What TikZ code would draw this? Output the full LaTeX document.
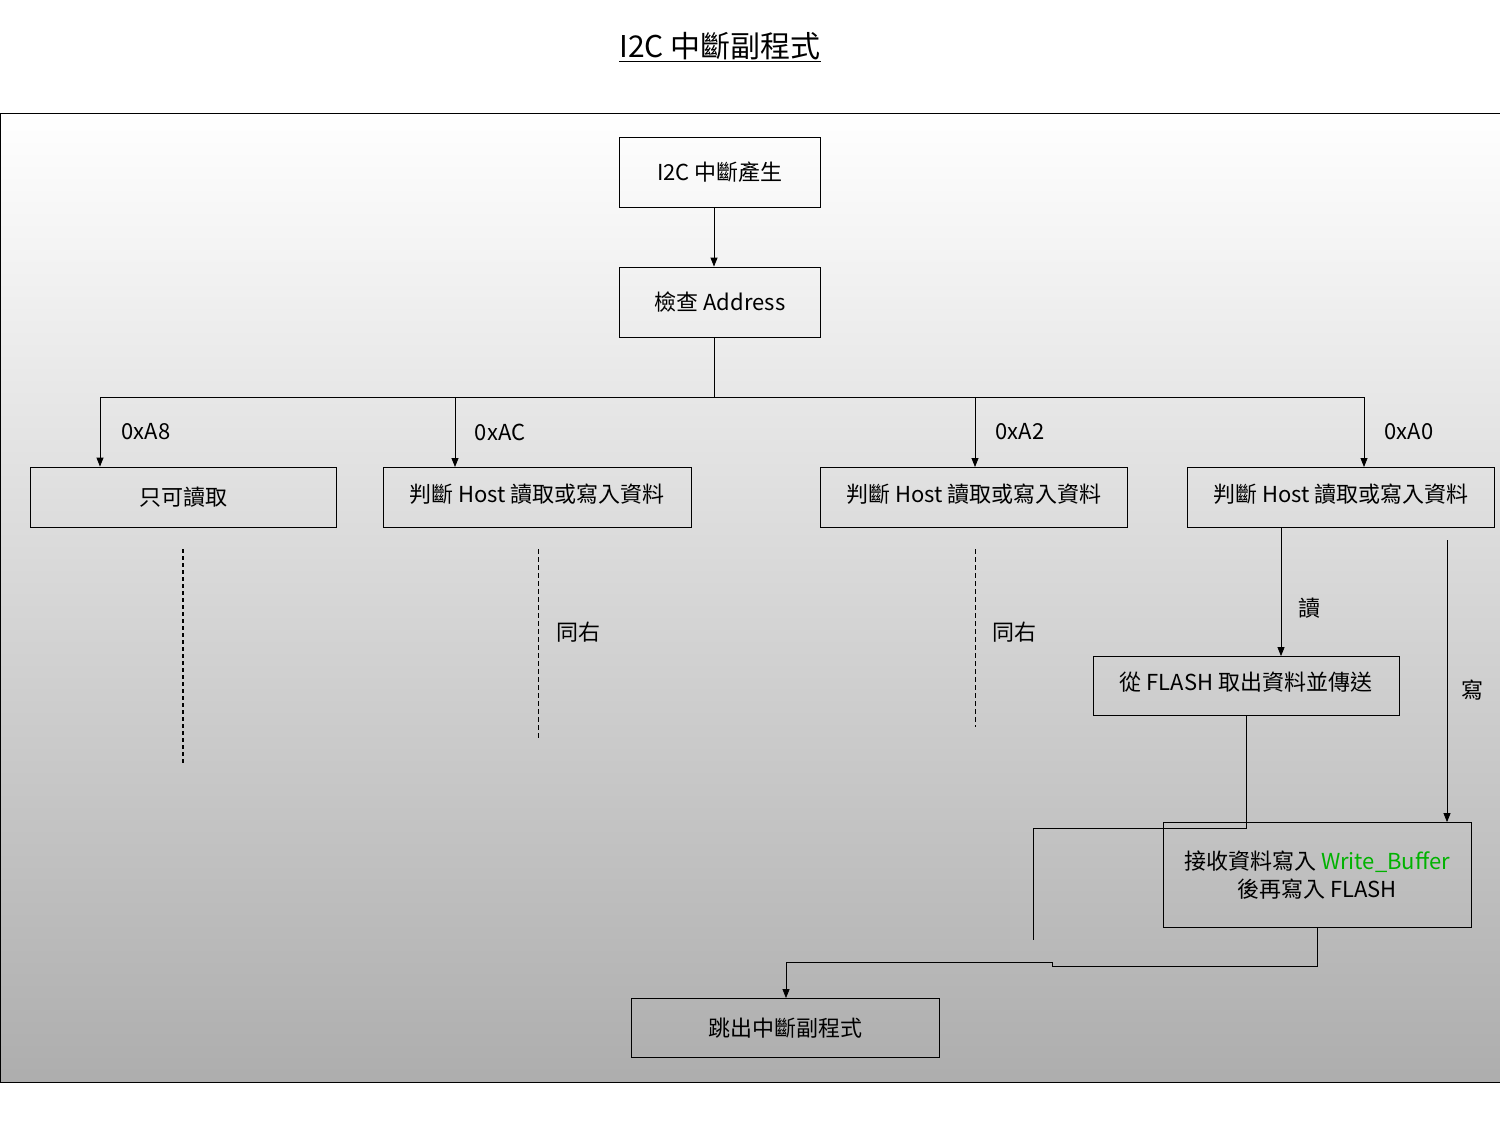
\documentclass[tikz,border=0pt]{standalone}
\usepackage{fontspec}
\setmainfont{Noto Sans CJK TC}
\usetikzlibrary{calc, positioning, arrows.meta}

\begin{document}
\begin{tikzpicture}[x=1pt,y=-1pt,
  box/.style={draw,thick,rectangle,inner sep=0pt,font=\fontsize{22}{28}\selectfont},
  arr/.style={-{Triangle[length=9pt,width=7pt]},thick},
  lab/.style={font=\fontsize{22}{26}\selectfont},
  dashln/.style={thick,dash pattern=on 5pt off 3pt}]
% canvas and background
\useasboundingbox (0,0) rectangle (1500,1125);
\shade[top color=white,bottom color=black!32] (0,113) rectangle (1500,1082);
\draw (0,113) rectangle (1500,1082);
% title
\node[font=\fontsize{30}{34}\selectfont] (title) at (720,47) {\underline{I2C 中斷副程式}};
% boxes
\node[box,minimum width=201pt,minimum height=70pt] (start) at (720,172) {I2C 中斷產生};
\node[box,minimum width=201pt,minimum height=70pt] (addr) at (720,302) {檢查 Address};
\node[box,minimum width=306pt,minimum height=60pt] (ro) at (183,497) {只可讀取};
\node[box,minimum width=308pt,minimum height=60pt,anchor=north] (hac) at (537,467) {\raisebox{8pt}{判斷 Host 讀取或寫入資料}};
\node[box,minimum width=307pt,minimum height=60pt,anchor=north] (ha2) at (974,467) {\raisebox{8pt}{判斷 Host 讀取或寫入資料}};
\node[box,minimum width=307pt,minimum height=60pt,anchor=north] (ha0) at (1341,467) {\raisebox{8pt}{判斷 Host 讀取或寫入資料}};
\node[box,minimum width=306pt,minimum height=59pt] (send) at (1246,686) {\raisebox{10pt}{從 FLASH 取出資料並傳送}};
\node[box,minimum width=308pt,minimum height=105pt,align=center] (recv) at (1317,875)
  {接收資料寫入 \textcolor{green!70!black}{Write\_Buffer}\\後再寫入 FLASH};
\node[box,minimum width=308pt,minimum height=59pt] (exit) at (785,1028) {跳出中斷副程式};
% main flow
\draw[arr] (start.south -| 714,0) -- (addr.north -| 714,0);
\coordinate (bus) at (714,397);
\draw[thick] (addr.south -| bus) -- (bus);
\draw[thick] (100,397) -- (1364,397);
\foreach \x/\n in {100/ro,455/hac,975/ha2,1364/ha0}
  \draw[arr] (\x,397) -- (\n.north -| \x,0);
\node[lab] (lA8) at (146,432) {0xA8};
\node[lab] (lAC) at (500,432) {0xAC};
\node[lab] (lA2) at (1020,432) {0xA2};
\node[lab] (lA0) at (1409,432) {0xA0};
% dashed continuations
\draw[very thick,dash pattern=on 4pt off 3pt] (183,549) -- (183,763);
\draw[dashln] (538,549) -- (538,740);
\draw[dashln] (975,549) -- (975,727);
\node[lab] (same1) at (578,632) {同右};
\node[lab] (same2) at (1014,632) {同右};
% read / write
\draw[arr] (ha0.south -| 1281,0) -- (send.north -| 1281,0);
\node[lab] (rd) at (1309,608) {讀};
\coordinate (wtop) at (1447,540);
\draw[arr] (wtop) -- (recv.north -| 1447,0);
\node[lab] (wr) at (1472,690) {寫};
\draw[thick] (send.south) -- (1246,828) -- (1033,828) -- (1033,940);
\draw[arr] (recv.south) -- (1317,966) -- (1052,966) -- (1052,962) -- (786,962) -- (exit.north -| 786,0);
\end{tikzpicture}
\end{document}
